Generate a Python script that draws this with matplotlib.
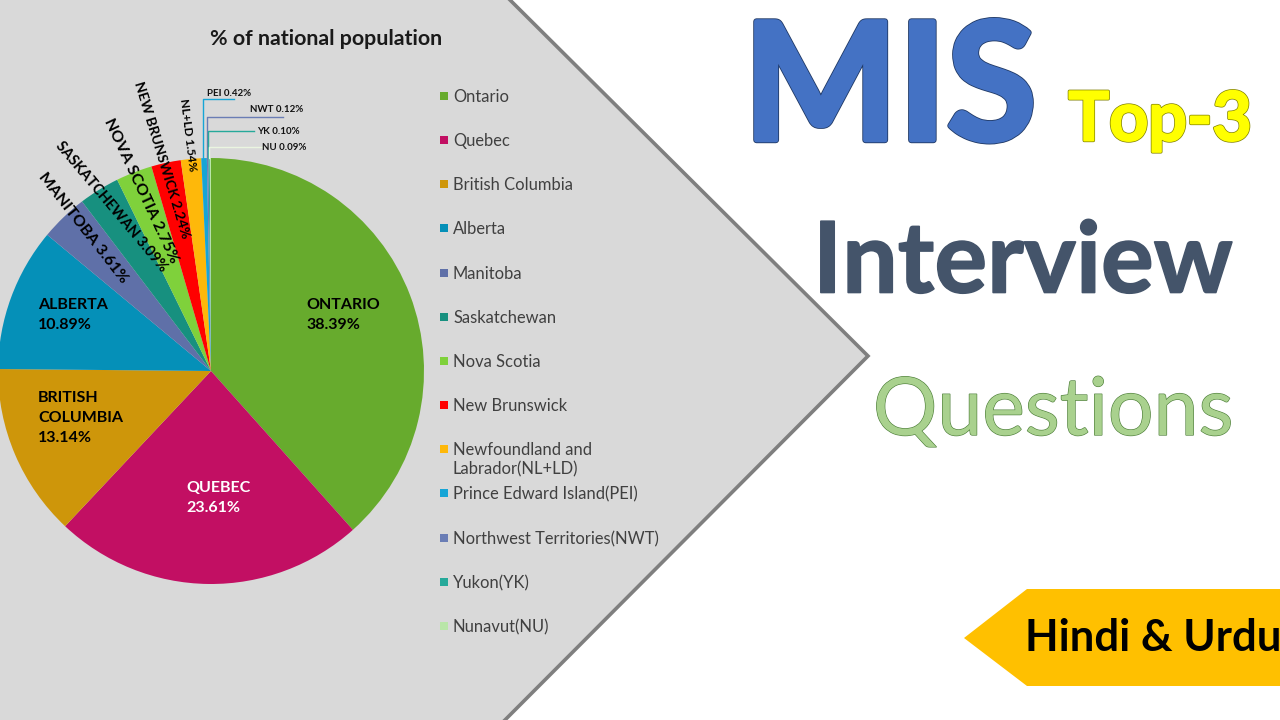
import matplotlib
matplotlib.use("Agg")
import matplotlib.pyplot as plt
import matplotlib.patheffects as pe
from matplotlib.patches import Polygon

provinces = ["Ontario", "Quebec", "British Columbia", "Alberta", "Manitoba", "Saskatchewan",
             "Nova Scotia", "New Brunswick", "Newfoundland and\nLabrador(NL+LD)",
             "Prince Edward Island(PEI)", "Northwest Territories(NWT)", "Yukon(YK)", "Nunavut(NU)"]
shares = [38.39, 23.61, 13.14, 10.89, 3.61, 3.09, 2.75, 2.24, 1.54, 0.42, 0.12, 0.10, 0.09]
colors = ["#67AB2D", "#C20F63", "#CE960A", "#0590B8", "#5F70A8", "#17907F", "#7FD13B",
          "#FF0000", "#FEB80A", "#16A5D6", "#6A7DB5", "#26A99A", "#B9E6A8"]

plt.rcParams["font.family"] = ["Lato", "DejaVu Sans"]
fig = plt.figure(figsize=(12.8, 7.2), dpi=100, facecolor="white")
ax = fig.add_axes([0, 0, 1, 1])
ax.set_xlim(0, 1280)
ax.set_ylim(0, 720)
ax.axis("off")

def Y(py):
    return 720 - py

panel = Polygon([(-10, Y(-10)), (500, Y(-10)), (868, Y(356)), (495, Y(730)), (-10, Y(730))],
                closed=True, facecolor="#D9D9D9", edgecolor="#7F7F7F", lw=2.6, zorder=1)
ax.add_patch(panel)

wedges, _ = ax.pie(shares, colors=colors, startangle=90, counterclock=False,
                   center=(211, Y(371)), radius=213, frame=False)
ax.set_xlim(0, 1280)
ax.set_ylim(0, 720)
ax.set_aspect("auto")
for w in wedges:
    w.set_zorder(2)

ax.text(326, Y(39), "% of national population", ha="center", va="center",
        fontsize=15.4, fontweight="bold", color="#1a1a1a", zorder=5)

# inside labels
for x, y, s, c in [(306, 315, "ONTARIO\n38.39%", "black"),
                   (186, 498, "QUEBEC\n23.61%", "white"),
                   (38, 418, "BRITISH\nCOLUMBIA\n13.14%", "black"),
                   (38, 315, "ALBERTA\n10.89%", "black")]:
    ax.text(x, Y(y), s, ha="left", va="center", fontsize=11.5,
            fontweight="bold", color=c, linespacing=1.55, zorder=5)

# radial labels
for x, y, s, r, fs in [(83, 228, "MANITOBA 3.61%", -52, 11.5),
                       (111, 207, "SASKATCHEWAN 3.09%", -50, 10.5),
                       (141, 191, "NOVA SCOTIA 2.75%", -65, 11.5),
                       (162, 160, "NEW BRUNSWICK 2.24%", -73, 10),
                       (188, 135, "NL+LD 1.54%", -83, 8.5)]:
    t = ax.text(x, Y(y), s, rotation=r, rotation_mode="anchor", ha="center", va="center",
                fontsize=fs, fontweight="bold", color="black", zorder=5)

# leader lines
for xs, ys, c, tx, ty, s in [([203, 203, 234], [158, 99, 99], "#16A5D6", 229, 93, "PEI 0.42%"),
                             ([207, 207, 283], [158, 117, 117], "#6A7DB5", 277, 110, "NWT 0.12%"),
                             ([208, 208, 254], [158, 131, 131], "#26A99A", 278, 131, "YK 0.10%"),
                             ([209, 209, 262], [158, 147, 147], "#EAF5E0", 284, 148, "NU 0.09%")]:
    ax.plot(xs, [Y(v) for v in ys], color=c, lw=1, zorder=3)
    ax.text(tx, Y(ty), s, ha="center", va="center", fontsize=7, color="#111111",
            fontweight="bold", zorder=5)

# legend
legend_y = [97, 141, 185, 229, 274, 318, 362, 406, 460, 494, 539, 583, 627]
for name, c, ly in zip(provinces, colors, legend_y):
    my = 449 if "\n" in name else ly - 1
    ax.scatter([444], [Y(my)], marker="s", s=30, color=c, linewidths=0, zorder=5)
    ax.text(453, Y(ly), name, ha="left", va="center", fontsize=11.9, color="#404040",
            linespacing=1.25, zorder=5)

def outlined(x, y, s, size, color, edge, weight="bold", strokes=((1.2, None),)):
    t = ax.text(x, Y(y), s, ha="center", va="center", fontsize=size, color=color,
                fontweight=weight, zorder=6)
    t.set_path_effects([pe.withStroke(linewidth=w, foreground=f or edge) for w, f in strokes])
    return t

outlined(890, 93, "MIS", 118, "#4472C4", "#1F3864", strokes=((4.6, None), (3.4, "#4472C4")))
outlined(1160, 121, "Top-3", 49, "#FFFF00", "#7F7F00", strokes=((2.4, None), (1.4, "#FFFF00")))
outlined(1023, 264, "Interview", 71, "#44546A", "#44546A", strokes=((1.2, None),))
outlined(1053, 412, "Questions", 58, "#A9D18E", "#4E7F3A", weight="normal", strokes=((0.9, None),))

arrow = Polygon([(964, Y(638)), (1027, Y(589)), (1290, Y(589)), (1290, Y(686)), (1027, Y(686))],
                closed=True, facecolor="#FFC000", edgecolor="none", zorder=2)
ax.add_patch(arrow)
t = ax.text(1025, Y(638), "Hindi & Urdu", ha="left", va="center", fontsize=31.5, fontweight="bold",
            color="black", zorder=6)

fig.savefig("out.png", dpi=100)
